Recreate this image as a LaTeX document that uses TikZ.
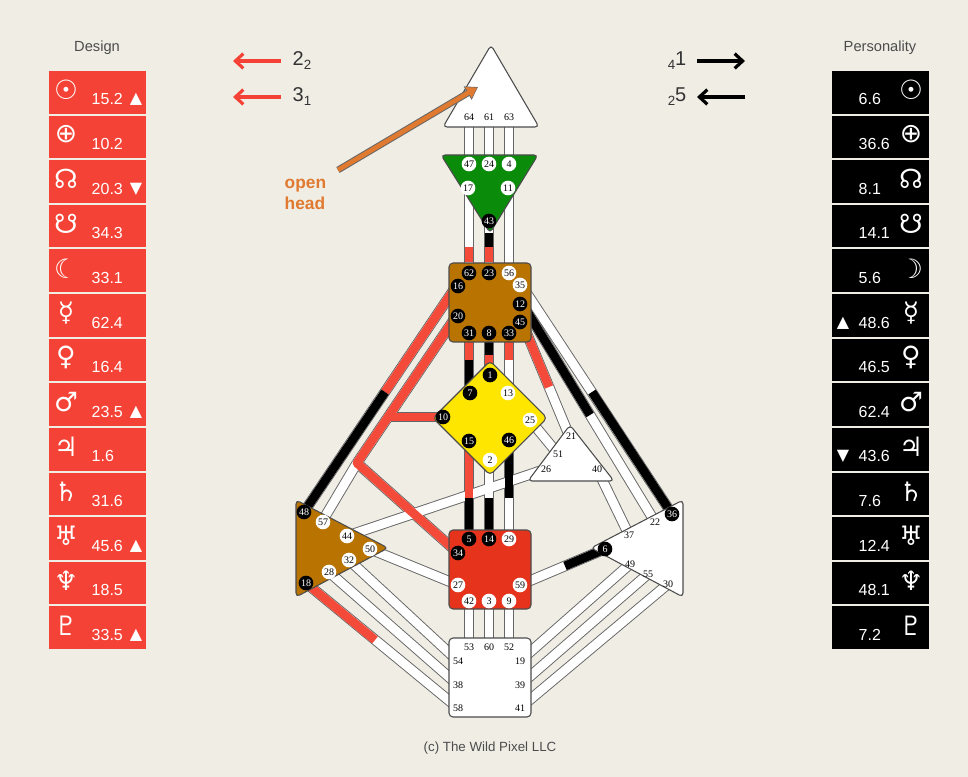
\documentclass[tikz,border=0pt]{standalone}
\usepackage{fontspec}
\setmainfont{Liberation Sans}
\newfontfamily\symf{DejaVu Sans}
\newfontfamily\gf{Liberation Serif}
\usetikzlibrary{arrows.meta}
\definecolor{bg}{HTML}{F0EDE5}
\definecolor{dred}{HTML}{F44336}
\definecolor{cred}{HTML}{F44A3A}
\definecolor{brn}{HTML}{B87300}
\definecolor{grn}{HTML}{0A8C0A}
\definecolor{yel}{HTML}{FFE600}
\definecolor{sac}{HTML}{E5341B}
\definecolor{org}{HTML}{E07A30}
\tikzset{
 x=0.75pt,y=-0.75pt,
 outl/.style={line width=8pt,draw=black!60},
 inw/.style={line width=6.6pt,draw=white},
 sred/.style={line width=6.6pt,draw=cred},
 sblk/.style={line width=6.6pt,draw=black},
 ctr/.style={draw=black!70,line width=0.8pt,rounded corners=3pt},
 gb/.style={circle,fill=black,text=white,inner sep=0pt,minimum size=11pt,font=\gf\fontsize{7.5}{7.5}\selectfont},
 gw/.style={circle,fill=white,text=black,inner sep=0pt,minimum size=11pt,font=\gf\fontsize{7.5}{7.5}\selectfont},
 gt/.style={inner sep=0pt,font=\gf\fontsize{7.5}{7.5}\selectfont},
 dtxt/.style={text=white,font=\fontsize{12}{12}\selectfont,anchor=base west},
 sym/.style={text=white,font=\symf\fontsize{20}{20}\selectfont},
}
\begin{document}
\begin{tikzpicture}
\fill[bg] (0,0) rectangle (968,777);
\useasboundingbox (0,0) rectangle (968,777);
% channel list
\def\chans{469/120/469/160,489/120/489/160,509/120/509/160,
469/190/469/270,489/225/489/270,509/190/509/270,
469/335/469/395,489/335/489/375,509/335/509/395,
469/440/469/540,489/455/489/540,509/440/509/540,
469/600/469/648,489/600/489/648,509/600/509/648,
455/288/304/512,455/318/357/463,357/463/323/520,357/463/458/553,443/417/388/417,
520/283/672/514,522/303/655/522,522/322/571/440,530/420/558/454,
546/469/347/536,597/469/629/535,520/585/605/549,458/585/370/549,
349/560/458/661,329/572/458/685,306/583/458/708,
520/661/630/564,520/685/648/574,520/708/668/584}
\foreach \xa/\ya/\xb/\yb in \chans {\draw[outl] (\xa,\ya) -- (\xb,\yb);}
\foreach \xa/\ya/\xb/\yb in \chans {\draw[inw] (\xa,\ya) -- (\xb,\yb);}
% colored segments
\draw[sred] (469,247) -- (469,262);
\draw[sblk] (489,233) -- (489,247);
\draw[sred] (489,247) -- (489,262);
\draw[sred] (469,342) -- (469,360); \draw[sblk] (469,360) -- (469,395);
\draw[sblk] (489,342) -- (489,355); \draw[sred] (489,355) -- (489,368);
\draw[sred] (509,342) -- (509,360);
\draw[sred] (469,440) -- (469,498); \draw[sblk] (469,498) -- (469,530);
\draw[sblk] (489,498) -- (489,530);
\draw[sblk] (509,440) -- (509,498);
\draw[sred] (455,288) -- (385,392); \draw[sblk] (385,392) -- (304,512);
\draw[sred,line cap=round] (455,318) -- (357,463);
\draw[sred] (357,463) -- (458,553);
\draw[sred] (443,417) -- (388,417);
\draw[sblk] (592,392) -- (672,514);
\draw[sblk] (522,303) -- (590,415);
\draw[sred] (522,322) -- (549,387);
\draw[sblk] (565,566) -- (605,549);
\draw[sred] (306,583) -- (375,640);
% centers
\draw[ctr,fill=white] (491,45) -- (539,127) -- (443,127) -- cycle;
\draw[ctr,fill=grn] (441,155) -- (538,155) -- (490,233) -- cycle;
\draw[ctr,fill=brn] (449,263) rectangle (531,342);
\draw[ctr,fill=yel] (490,361) -- (547,418) -- (490,475) -- (433,418) -- cycle;
\draw[ctr,fill=white] (570,425) -- (614,481) -- (528,481) -- cycle;
\draw[ctr,fill=sac] (449,530) rectangle (531,609);
\draw[ctr,fill=white] (449,638) rectangle (531,717);
\draw[ctr,fill=brn] (296,500) -- (388,548) -- (296,597) -- cycle;
\draw[ctr,fill=white] (683,500) -- (683,597) -- (591,548) -- cycle;
% gates
\foreach \p/\n in {469/64,489/61,509/63} \node[gt] (g\n) at (\p,117) {\n};
\foreach \x/\y/\n in {469/164/47,489/164/24,509/164/4,468/188/17,508/188/11} \node[gw] (g\n) at (\x,\y) {\n};
\node[gb] (g43) at (489,221) {43};
\foreach \x/\y/\n in {469/273/62,489/273/23,458/286/16,520/304/12,458/316/20,520/322/45,469/333/31,489/333/8,509/333/33} \node[gb] (g\n) at (\x,\y) {\n};
\foreach \x/\y/\n in {509/273/56,520/285/35} \node[gw] (g\n) at (\x,\y) {\n};
\foreach \x/\y/\n in {490/375/1,470/393/7,443/417/10,469/441/15,509/440/46} \node[gb] (g\n) at (\x,\y) {\n};
\foreach \x/\y/\n in {508/393/13,530/420/25,490/460/2} \node[gw] (g\n) at (\x,\y) {\n};
\foreach \x/\y/\n in {571/436/21,558/454/51,546/469/26,597/469/40} \node[gt] (g\n) at (\x,\y) {\n};
\foreach \x/\y/\n in {469/539/5,489/539/14,458/553/34} \node[gb] (g\n) at (\x,\y) {\n};
\foreach \x/\y/\n in {509/539/29,458/585/27,520/585/59,469/601/42,489/601/3,509/601/9} \node[gw] (g\n) at (\x,\y) {\n};
\foreach \x/\y/\n in {469/647/53,489/647/60,509/647/52,458/661/54,520/661/19,458/685/38,520/685/39,458/708/58,520/708/41} \node[gt] (g\n) at (\x,\y) {\n};
\foreach \x/\y/\n in {304/512/48,306/583/18} \node[gb] (g\n) at (\x,\y) {\n};
\foreach \x/\y/\n in {323/522/57,347/536/44,370/549/50,349/560/32,329/572/28} \node[gw] (g\n) at (\x,\y) {\n};
\foreach \x/\y/\n in {672/514/36,605/549/6} \node[gb] (g\n) at (\x,\y) {\n};
\foreach \x/\y/\n in {655/522/22,629/535/37,630/564/49,648/574/55,668/584/30} \node[gt] (g\n) at (\x,\y) {\n};
% open head arrow
\coordinate (oa) at (338,170);
\coordinate (ob) at (478,87);
\draw[black!60,line width=5pt,-{Triangle[length=9pt,width=11pt]}] (oa) -- (ob);
\draw[org,line width=3.5pt,-{Triangle[length=7.5pt,width=9pt]},shorten >=0.8pt] (oa) -- (ob);
\node[text=org,font=\bfseries\fontsize{13}{16}\selectfont,align=left,anchor=north west] (oh) at (280,174) {open\\head};
% top arrows
\coordinate (la1) at (281,61); \coordinate (lb1) at (233,61);
\coordinate (la2) at (281,97); \coordinate (lb2) at (233,97);
\draw[dred,line width=2.4pt,-{Straight Barb[length=6pt,width=11pt]}] (la1) -- (lb1);
\draw[dred,line width=2.4pt,-{Straight Barb[length=6pt,width=11pt]}] (la2) -- (lb2);
\node[anchor=west,font=\fontsize{15}{15}\selectfont,text=black!80] (t22) at (288,61) {2\raisebox{-3pt}{\fontsize{10}{10}\selectfont 2}};
\node[anchor=west,font=\fontsize{15}{15}\selectfont,text=black!80] (t31) at (288,97) {3\raisebox{-3pt}{\fontsize{10}{10}\selectfont 1}};
\coordinate (ra1) at (697,61); \coordinate (rb1) at (745,61);
\coordinate (ra2) at (745,97); \coordinate (rb2) at (697,97);
\draw[black,line width=2.4pt,-{Straight Barb[length=6pt,width=11pt]}] (ra1) -- (rb1);
\draw[black,line width=2.4pt,-{Straight Barb[length=6pt,width=11pt]}] (ra2) -- (rb2);
\node[anchor=east,font=\fontsize{15}{15}\selectfont,text=black!80] (t41) at (691,61) {\raisebox{-3pt}{\fontsize{10}{10}\selectfont 4}1};
\node[anchor=east,font=\fontsize{15}{15}\selectfont,text=black!80] (t25) at (691,97) {\raisebox{-3pt}{\fontsize{10}{10}\selectfont 2}5};
% panels
\node[text=black!70,font=\fontsize{11}{11}\selectfont] (dh) at (97,48) {Design};
\node[text=black!70,font=\fontsize{11}{11}\selectfont] (ph) at (880,48) {Personality};
\foreach \i/\s/\v/\t in {0/☉/15.2/▲,1/⊕/10.2/,2/☊/20.3/▼,3/☋/34.3/,4/☾/33.1/,5/☿/62.4/,6/♀/16.4/,7/♂/23.5/▲,8/♃/1.6/,9/♄/31.6/,10/♅/45.6/▲,11/♆/18.5/,12/♇/33.5/▲}{
 \pgfmathsetmacro\yt{70+\i*44.62}
 \fill[dred] (49,\yt+1) rectangle (146,\yt+43.6);
 \node[sym] (ds\i) at (66,\yt+20) {\s};
 \node[dtxt] (dv\i) at (87,\yt+35) {\v};
 \node[text=white,font=\symf\fontsize{12}{12}\selectfont,anchor=base] (dt\i) at (136,\yt+34) {\t};
}
\foreach \i/\s/\v/\t in {0/☉/6.6/,1/⊕/36.6/,2/☊/8.1/,3/☋/14.1/,4/☽/5.6/,5/☿/48.6/▲,6/♀/46.5/,7/♂/62.4/,8/♃/43.6/▼,9/♄/7.6/,10/♅/12.4/,11/♆/48.1/,12/♇/7.2/}{
 \pgfmathsetmacro\yt{70+\i*44.62}
 \fill[black] (832,\yt+1) rectangle (929,\yt+43.6);
 \node[sym] (ps\i) at (911,\yt+20) {\s};
 \node[dtxt] (pv\i) at (854,\yt+35) {\v};
 \node[text=white,font=\symf\fontsize{12}{12}\selectfont,anchor=base] (pt\i) at (843,\yt+34) {\t};
}
\node[text=black!70,font=\fontsize{10}{10}\selectfont] (cp) at (490,748) {(c) The Wild Pixel LLC};
\end{tikzpicture}
\end{document}
